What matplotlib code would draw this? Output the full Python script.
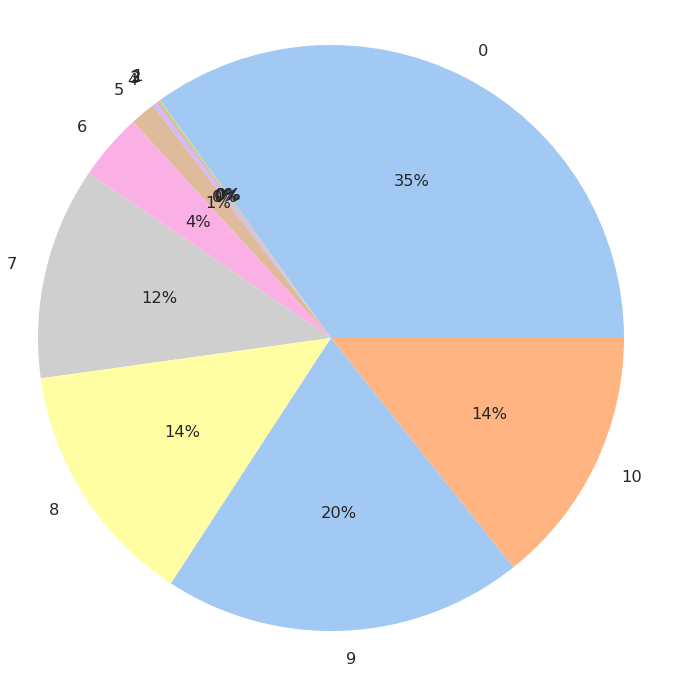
import matplotlib
matplotlib.use("Agg")
import matplotlib.pyplot as plt

#%% data (share of total, %)
labels = ['0', '1', '2', '3', '4', '5', '6', '7', '8', '9', '10']
values = [34.9, 0.05, 0.1, 0.1, 0.25, 1.4, 3.7, 11.7, 13.6, 19.9, 14.3]

# seaborn "pastel", first 9 colours (cycle restarts at slice 9)
colors = ['#a1c9f4', '#ffb482', '#8de5a1', '#ff9f9b', '#d0bbff',
          '#debb9b', '#fab0e4', '#cfcfcf', '#fffea3']

plt.rcParams.update({'font.size': 11.7, 'text.color': '#262626'})

#%% plot
W, H = 679, 681
fig = plt.figure(figsize=(W / 100, H / 100), dpi=100)
cx, cy, r = 331, H - 338, 293
side = 2.5 * r
ax = fig.add_axes([(cx - side / 2) / W, (cy - side / 2) / H, side / W, side / H])

ax.pie(values, labels=labels, colors=colors, autopct='%.0f%%')
ax.set_xlim(-1.25, 1.25)
ax.set_ylim(-1.25, 1.25)
ax.set_aspect('equal')

fig.savefig('out.png', dpi=100)
